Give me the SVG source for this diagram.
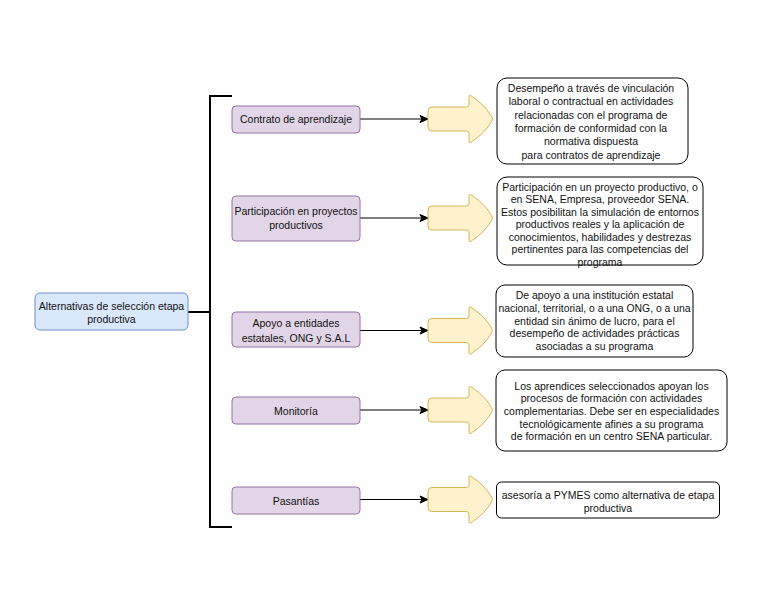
<svg xmlns="http://www.w3.org/2000/svg" width="768" height="594" viewBox="0 0 768 594">
<style>
text{font-family:"Liberation Sans",Arial,sans-serif;font-size:10.5px;fill:#111;text-anchor:middle}
.root{fill:#dae8fc;stroke:#6c8ebf;stroke-width:1}
.opt{fill:#e1d5e7;stroke:#9673a6;stroke-width:1}
.desc{fill:#fff;stroke:#000;stroke-width:1}
.blk{fill:#fff2cc;stroke:#d6b656;stroke-width:1}
.br{fill:none;stroke:#000;stroke-width:2}
.con{fill:none;stroke:#000;stroke-width:1;marker-end:url(#ah)}
</style>
<defs>
<marker id="ah" markerUnits="userSpaceOnUse" markerWidth="10" markerHeight="10" viewBox="0 0 10 10" refX="9" refY="5" orient="auto">
<path d="M1,1.5 L9,5 L1,8.5 L3,5 Z" fill="#000" stroke="#000" stroke-width="1"/>
</marker>
<path id="blkarrow" d="M4,-12 L38.5,-12 Q41,-12 41,-14.5 L41,-21.5 Q41,-25.5 44,-22.5 Q57,-14 63.5,-2.5 Q65.5,0 63.5,2.5 Q57,14 44,22.5 Q41,25.5 41,21.5 L41,14.5 Q41,12 38.5,12 L4,12 Q0,12 0,8 L0,-8 Q0,-12 4,-12 Z"/>
</defs>
<rect width="768" height="594" fill="#fff"/>
<g id="connectors">
<path class="br" d="M232,96 L210,96 L210,527 L232,527"/>
<path class="br" d="M188,312 L210,312"/>
<path class="con" d="M360,119 L428,119"/>
<path class="con" d="M360,218 L428,218"/>
<path class="con" d="M360,330.5 L428,330.5"/>
<path class="con" d="M360,410 L428,410"/>
<path class="con" d="M360,499.5 L428,499.5"/>
</g>
<g id="root">
<rect class="root" x="35" y="293" width="153" height="37" rx="5"/>
<text x="111.5" y="309.5">Alternativas de selección etapa</text>
<text x="111.5" y="323">productiva</text>
</g>
<g id="opt1">
<rect class="opt" x="232" y="106" width="128" height="27" rx="4"/>
<text x="296" y="123">Contrato de aprendizaje</text>
</g>
<g id="opt2">
<rect class="opt" x="232" y="196" width="128" height="45" rx="4"/>
<text x="296" y="214.5">Participación en proyectos</text>
<text x="296" y="229">productivos</text>
</g>
<g id="opt3">
<rect class="opt" x="232" y="312" width="128" height="35" rx="4"/>
<text x="296" y="326.5">Apoyo a entidades</text>
<text x="296" y="341.5">estatales, ONG y S.A.L</text>
</g>
<g id="opt4">
<rect class="opt" x="232" y="397" width="128" height="27" rx="4"/>
<text x="296" y="414.5">Monitoría</text>
</g>
<g id="opt5">
<rect class="opt" x="232" y="487" width="128" height="27" rx="4"/>
<text x="296" y="504.5">Pasantías</text>
</g>
<g id="arrow1"><use href="#blkarrow" class="blk" transform="translate(428,119)"/></g>
<g id="arrow2"><use href="#blkarrow" class="blk" transform="translate(428,218)"/></g>
<g id="arrow3"><use href="#blkarrow" class="blk" transform="translate(428,330.5)"/></g>
<g id="arrow4"><use href="#blkarrow" class="blk" transform="translate(428,410)"/></g>
<g id="arrow5"><use href="#blkarrow" class="blk" transform="translate(428,499.5)"/></g>
<g id="desc1">
<rect class="desc" x="497" y="78" width="191" height="86" rx="10"/>
<text x="591" y="92">Desempeño a través de vinculación</text>
<text x="591" y="105.3">laboral o contractual en actividades</text>
<text x="591" y="118.6">relacionadas con el programa de</text>
<text x="591" y="131.9">formación de conformidad con la</text>
<text x="591" y="145.2">normativa dispuesta</text>
<text x="591" y="158.5">para contratos de aprendizaje</text>
</g>
<g id="desc2">
<rect class="desc" x="497" y="177" width="206" height="88" rx="10"/>
<text x="600" y="190.7">Participación en un proyecto productivo, o</text>
<text x="600" y="203.2">en SENA, Empresa, proveedor SENA.</text>
<text x="600" y="215.7">Estos posibilitan la simulación de entornos</text>
<text x="600" y="228.2">productivos reales y la aplicación de</text>
<text x="600" y="240.7">conocimientos, habilidades y destrezas</text>
<text x="600" y="253.2">pertinentes para las competencias del</text>
<text x="600" y="265.7">programa</text>
</g>
<g id="desc3">
<rect class="desc" x="496" y="285" width="197" height="72" rx="9"/>
<text x="594.5" y="298.7">De apoyo a una institución estatal</text>
<text x="594.5" y="311.6" textLength="192" lengthAdjust="spacingAndGlyphs">nacional, territorial, o a una ONG, o a una</text>
<text x="594.5" y="324.5">entidad sin ánimo de lucro, para el</text>
<text x="594.5" y="337.4">desempeño de actividades prácticas</text>
<text x="594.5" y="350.3">asociadas a su programa</text>
</g>
<g id="desc4">
<rect class="desc" x="496" y="370" width="231" height="81" rx="9"/>
<text x="611.5" y="389.5">Los aprendices seleccionados apoyan los</text>
<text x="611.5" y="402.2">procesos de formación con actividades</text>
<text x="611.5" y="414.9">complementarias. Debe ser en especialidades</text>
<text x="611.5" y="427.6">tecnológicamente afines a su programa</text>
<text x="611.5" y="440.3">de formación en un centro SENA particular.</text>
</g>
<g id="desc5">
<rect class="desc" x="496.5" y="482" width="223" height="36" rx="5"/>
<text x="608" y="498.5">asesoría a PYMES como alternativa de etapa</text>
<text x="608" y="511.8">productiva</text>
</g>
</svg>
